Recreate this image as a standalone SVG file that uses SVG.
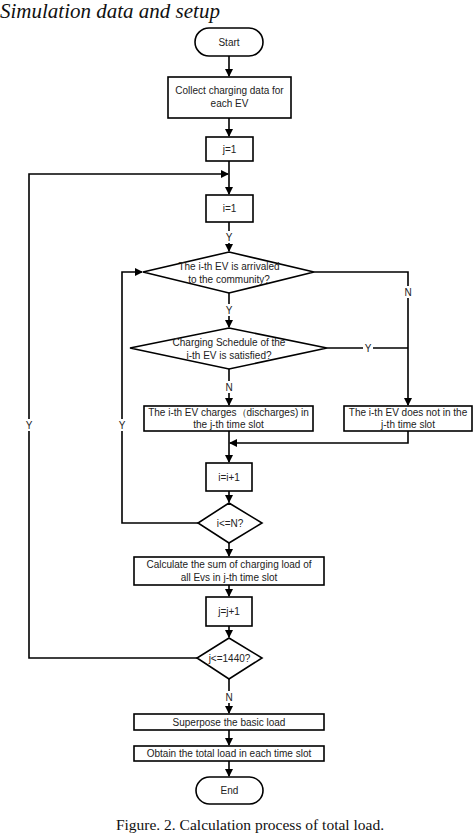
<svg xmlns="http://www.w3.org/2000/svg" width="474" height="835" viewBox="0 0 474 835">
<style>
.s{fill:#fff;stroke:#000;stroke-width:1.6}
.c{fill:none;stroke:#000;stroke-width:1.6}
.t{font-family:"Liberation Sans",Arial,sans-serif;font-size:10px;fill:#222;text-anchor:middle}
.l{font-family:"Liberation Sans",Arial,sans-serif;font-size:10px;fill:#222;text-anchor:middle}
</style>
<defs>
<marker id="a" markerWidth="8" markerHeight="8" refX="7" refY="4" orient="auto" markerUnits="userSpaceOnUse"><path d="M0,0 L8,4 L0,8 Z" fill="#000"/></marker>
</defs>
<rect width="474" height="835" fill="#fff"/>
<text x="0" y="18" font-family="Liberation Serif,Times New Roman,serif" font-style="italic" font-size="21" fill="#111">Simulation data and setup</text>
<g id="connectors">
<path class="c" d="M229,56 V76" marker-end="url(#a)"/>
<path class="c" d="M229,118 V136" marker-end="url(#a)"/>
<path class="c" d="M229,161 V194" marker-end="url(#a)"/>
<path class="c" d="M197,658 H29 V174 H228" marker-end="url(#a)"/>
<path class="c" d="M229,222 V251" marker-end="url(#a)"/>
<path class="c" d="M229,293 V327" marker-end="url(#a)"/>
<path class="c" d="M314,272 H408 V405" marker-end="url(#a)"/>
<path class="c" d="M327,348 H408"/>
<path class="c" d="M229,369 V405" marker-end="url(#a)"/>
<path class="c" d="M408,431 V443 H230" marker-end="url(#a)"/>
<path class="c" d="M229,431 V462" marker-end="url(#a)"/>
<path class="c" d="M229,491 V502" marker-end="url(#a)"/>
<path class="c" d="M198,523 H122 V272 H142" marker-end="url(#a)"/>
<path class="c" d="M229,543 V556" marker-end="url(#a)"/>
<path class="c" d="M229,585 V596" marker-end="url(#a)"/>
<path class="c" d="M229,626 V637" marker-end="url(#a)"/>
<path class="c" d="M229,679 V713" marker-end="url(#a)"/>
<path class="c" d="M229,730 V745" marker-end="url(#a)"/>
<path class="c" d="M229,761 V776" marker-end="url(#a)"/>
<g>
<rect x="224" y="231" width="10" height="12" fill="#fff"/><text class="l" x="229" y="241">Y</text>
<rect x="224" y="304" width="10" height="12" fill="#fff"/><text class="l" x="229" y="314">Y</text>
<rect x="403" y="286" width="10" height="12" fill="#fff"/><text class="l" x="408" y="296">N</text>
<rect x="363" y="342" width="10" height="12" fill="#fff"/><text class="l" x="368" y="352">Y</text>
<rect x="224" y="381" width="10" height="12" fill="#fff"/><text class="l" x="229" y="391">N</text>
<rect x="117" y="419" width="10" height="12" fill="#fff"/><text class="l" x="122" y="429">Y</text>
<rect x="24" y="419" width="10" height="12" fill="#fff"/><text class="l" x="29" y="429">Y</text>
<rect x="224" y="691" width="10" height="12" fill="#fff"/><text class="l" x="229" y="701">N</text>
</g>
</g>
<g id="start"><rect class="s" x="195" y="28" width="68" height="28" rx="14"/><text class="t" x="229" y="45.5">Start</text></g>
<g id="collect"><rect class="s" x="168" y="77" width="123" height="41"/><text class="t" x="229.5" y="94">Collect charging data for</text><text class="t" x="229.5" y="107">each EV</text></g>
<g id="j1"><rect class="s" x="206" y="137" width="47" height="24"/><text class="t" x="229.5" y="152.5">j=1</text></g>
<g id="i1"><rect class="s" x="206" y="195" width="47" height="27"/><text class="t" x="229.5" y="212">i=1</text></g>
<g id="arrived"><polygon class="s" points="229,252 314,272 229,293 143,272"/><text class="t" x="229" y="270">The i-th EV is arrivaled</text><text class="t" x="229" y="283">to the community?</text></g>
<g id="schedule"><polygon class="s" points="229,328 327,348 229,369 130,348"/><text class="t" x="229" y="346">Charging Schedule of the</text><text class="t" x="229" y="359">i-th EV is satisfied?</text></g>
<g id="charges"><rect class="s" x="144" y="406" width="169" height="25"/><text class="t" x="228.5" y="416">The i-th EV charges（discharges) in</text><text class="t" x="228.5" y="428">the j-th time slot</text></g>
<g id="notin"><rect class="s" x="344" y="406" width="128" height="25"/><text class="t" x="408" y="416">The i-th EV does not in the</text><text class="t" x="408" y="428">j-th time slot</text></g>
<g id="iinc"><rect class="s" x="206" y="463" width="46" height="28"/><text class="t" x="229" y="480.5">i=i+1</text></g>
<g id="ileN"><polygon class="s" points="229,503 262,523 229,543 198,523"/><text class="t" x="230" y="526.5">i&lt;=N?</text></g>
<g id="calc"><rect class="s" x="134" y="557" width="190" height="28"/><text class="t" x="229" y="568">Calculate the sum of charging load of</text><text class="t" x="229" y="581">all Evs in j-th time slot</text></g>
<g id="jinc"><rect class="s" x="206" y="597" width="46" height="29"/><text class="t" x="229" y="615">j=j+1</text></g>
<g id="jle"><polygon class="s" points="229,638 262,658 229,679 197,658"/><text class="t" x="229.5" y="661.5">j&lt;=1440?</text></g>
<g id="superpose"><rect class="s" x="134" y="714" width="190" height="16"/><text class="t" x="229" y="725.5">Superpose the basic load</text></g>
<g id="obtain"><rect class="s" x="134" y="746" width="190" height="15"/><text class="t" x="229" y="757">Obtain the total load in each time slot</text></g>
<g id="end"><rect class="s" x="196" y="777" width="67" height="27" rx="13.5"/><text class="t" x="229.5" y="794">End</text></g>
<text x="250" y="830" font-family="Liberation Serif,Times New Roman,serif" font-size="15.5" fill="#111" text-anchor="middle">Figure. 2. Calculation process of total load.</text>
</svg>
